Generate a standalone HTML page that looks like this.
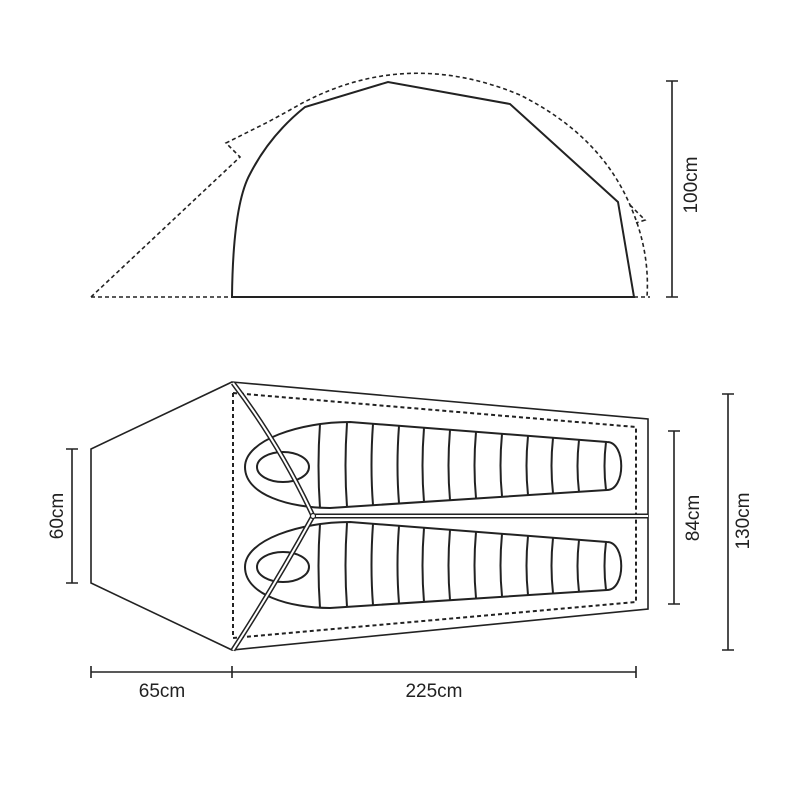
<!DOCTYPE html>
<html><head><meta charset="utf-8"><style>
html,body{margin:0;padding:0;background:#fff;}
svg{display:block;}
text{font-family:"Liberation Sans","DejaVu Sans",sans-serif;font-size:19px;fill:#222;}
</style></head><body>
<svg width="800" height="800" viewBox="0 0 800 800" xmlns="http://www.w3.org/2000/svg">
<g fill="none" stroke="#222" stroke-width="1.6">
<path d="M91,297 L240,157 L226,143 L268,122 L290,110 Q400,45 520,95 Q600,135 630,205 Q650,250 647,297" stroke-dasharray="4,3"/>
<path d="M91,297 L232,297" stroke-dasharray="4,3"/>
<path d="M634,297 L650,297" stroke-dasharray="4,3"/>
<path d="M630,205 L645,220 L636,223" stroke-dasharray="4,3"/>
<path d="M232,297 Q233,205 250,174 Q270,135 305,107 L388,82 L510,104 L618,202 L634,297 Z" stroke-width="2"/>
<path d="M672,81 L672,297 M666,81 L678,81 M666,297 L678,297"/>
</g>
<text transform="translate(697,185) rotate(-90)" text-anchor="middle">100cm</text>

<g fill="none" stroke="#222" stroke-width="1.6">
<path d="M232,382 L648,419 L648,609 L232,650 L91,583 L91,449 Z"/>
<path d="M233,393 L636,427 L636,602 L233,638 Z" stroke-dasharray="4,3" stroke-width="2"/>
<g id="bag" stroke-width="2">
<path d="M245,467 C245,440 300,422 350,422 L607,442 C626,442 626,490 607,490 L330,508 C290,508 245,495 245,467 Z"/>
<ellipse cx="283" cy="467" rx="26" ry="15"/>
<path d="M320,424 Q317,466 320,508 M347,423 Q344,466 347,507 M373,424 Q370,466 373,505 M399,426 Q396,466 399,503 M424,428 Q421,466 424,502 M450,430 Q447,466 450,500 M476,432 Q473,466 476,498 M502,434 Q499,466 502,496 M528,436 Q525,466 528,495 M553,438 Q550,466 553,493 M579,440 Q576,466 579,492 M606,442 Q603,466 606,490"/>
</g>
<use href="#bag" transform="translate(0,100)"/>
</g>
<g fill="none">
<path d="M233,383 Q280,445 313,516 Q275,585 233,650 M313,516 L648,516" stroke="#222" stroke-width="5"/>
<path d="M233,383 Q280,445 313,516 Q275,585 233,650 M313,516 L648,516" stroke="#fff" stroke-width="2"/>
<circle cx="313" cy="516" r="2.5" fill="#fff" stroke="#222" stroke-width="1.2"/>
</g>
<g fill="none" stroke="#222" stroke-width="1.6">
<path d="M72,449 L72,583 M66,449 L78,449 M66,583 L78,583"/>
<path d="M674,431 L674,604 M668,431 L680,431 M668,604 L680,604"/>
<path d="M728,394 L728,650 M722,394 L734,394 M722,650 L734,650"/>
<path d="M91,672 L636,672 M91,666 L91,678 M232,666 L232,678 M636,666 L636,678"/>
</g>
<text transform="translate(63,516) rotate(-90)" text-anchor="middle">60cm</text>
<text transform="translate(699,518) rotate(-90)" text-anchor="middle">84cm</text>
<text transform="translate(749,521) rotate(-90)" text-anchor="middle">130cm</text>
<text x="162" y="697" text-anchor="middle">65cm</text>
<text x="434" y="697" text-anchor="middle">225cm</text>
</svg>
</body></html>
